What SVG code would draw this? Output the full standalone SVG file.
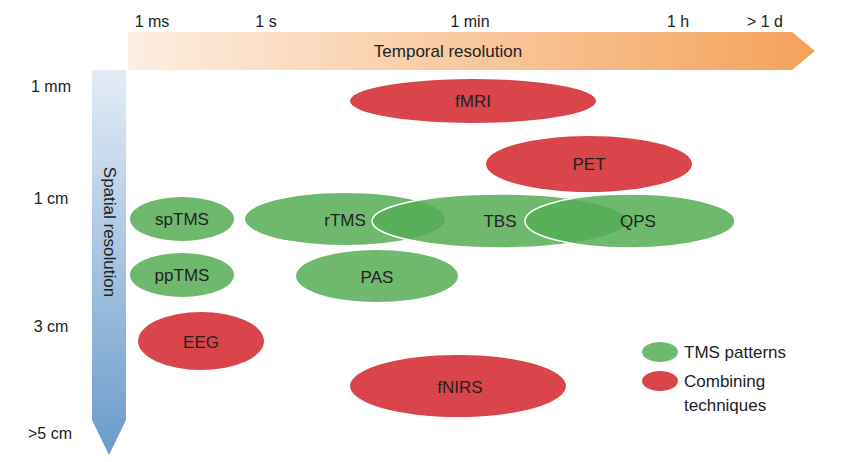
<svg xmlns="http://www.w3.org/2000/svg" width="865" height="462" viewBox="0 0 865 462">
<defs>
<linearGradient id="gh" x1="0" y1="0" x2="1" y2="0"><stop offset="0" stop-color="#fdeee2"/><stop offset="1" stop-color="#f4a25a"/></linearGradient>
<linearGradient id="gv" x1="0" y1="0" x2="0" y2="1"><stop offset="0" stop-color="#e3ecf6"/><stop offset="1" stop-color="#6a9bcb"/></linearGradient>
<style>
text{font-family:"Liberation Sans",Arial,sans-serif;font-size:17px;fill:#222}
.ax{font-size:16px}
.g{fill:#56ad56;fill-opacity:0.85}
.r{fill:#d9454b}
.w{stroke:#fff;stroke-width:1.5}
.c{text-anchor:middle;dominant-baseline:central}
</style>
</defs>
<rect width="865" height="462" fill="#fff"/>
<g id="axes">
<polygon points="128,32 792,32 815,51 792,70 128,70" fill="url(#gh)"/>
<text class="c" x="448" y="51">Temporal resolution</text>
<polygon points="92,70 126,70 126,420 109,455 92,420" fill="url(#gv)"/>
<text class="c" transform="translate(109,232) rotate(90)">Spatial resolution</text>
<text class="ax c" x="152" y="21">1 ms</text>
<text class="ax c" x="266" y="21">1 s</text>
<text class="ax c" x="470" y="21">1 min</text>
<text class="ax c" x="678" y="21">1 h</text>
<text class="ax c" x="765" y="21">&gt; 1 d</text>
<text class="ax c" x="51" y="86">1 mm</text>
<text class="ax c" x="51" y="198">1 cm</text>
<text class="ax c" x="51" y="326">3 cm</text>
<text class="ax c" x="50" y="433">&gt;5 cm</text>
</g>
<g id="fMRI"><ellipse class="r" cx="473" cy="101" rx="123" ry="22"/><text class="c" x="473" y="101">fMRI</text></g>
<g id="PET"><ellipse class="r" cx="589" cy="164" rx="103" ry="28"/><text class="c" x="589" y="164">PET</text></g>
<g id="rTMS"><ellipse class="g" cx="345" cy="219" rx="100" ry="26"/><text class="c" x="345" y="220">rTMS</text></g>
<g id="TBS"><ellipse class="g w" cx="500" cy="221" rx="128" ry="27"/><text class="c" x="500" y="221">TBS</text></g>
<g id="QPS"><ellipse class="g w" cx="630" cy="221" rx="105" ry="27"/><text class="c" x="638" y="221">QPS</text></g>
<g id="spTMS"><ellipse class="g" cx="182" cy="219" rx="52" ry="22"/><text class="c" x="182" y="219">spTMS</text></g>
<g id="ppTMS"><ellipse class="g" cx="182" cy="275" rx="52" ry="22"/><text class="c" x="182" y="275">ppTMS</text></g>
<g id="PAS"><ellipse class="g" cx="377" cy="276" rx="81" ry="26"/><text class="c" x="377" y="277">PAS</text></g>
<g id="EEG"><ellipse class="r" cx="201" cy="341" rx="63" ry="29"/><text class="c" x="201" y="342">EEG</text></g>
<g id="fNIRS"><ellipse class="r" cx="458" cy="386" rx="108" ry="31"/><text class="c" x="460" y="387">fNIRS</text></g>
<g id="legend">
<ellipse class="g" cx="660" cy="352" rx="18" ry="10"/><text x="684" y="358">TMS patterns</text>
<ellipse class="r" cx="660" cy="381" rx="18" ry="10"/><text x="684" y="387">Combining</text><text x="684" y="411">techniques</text>
</g>
<g id="connectors"/>
</svg>
